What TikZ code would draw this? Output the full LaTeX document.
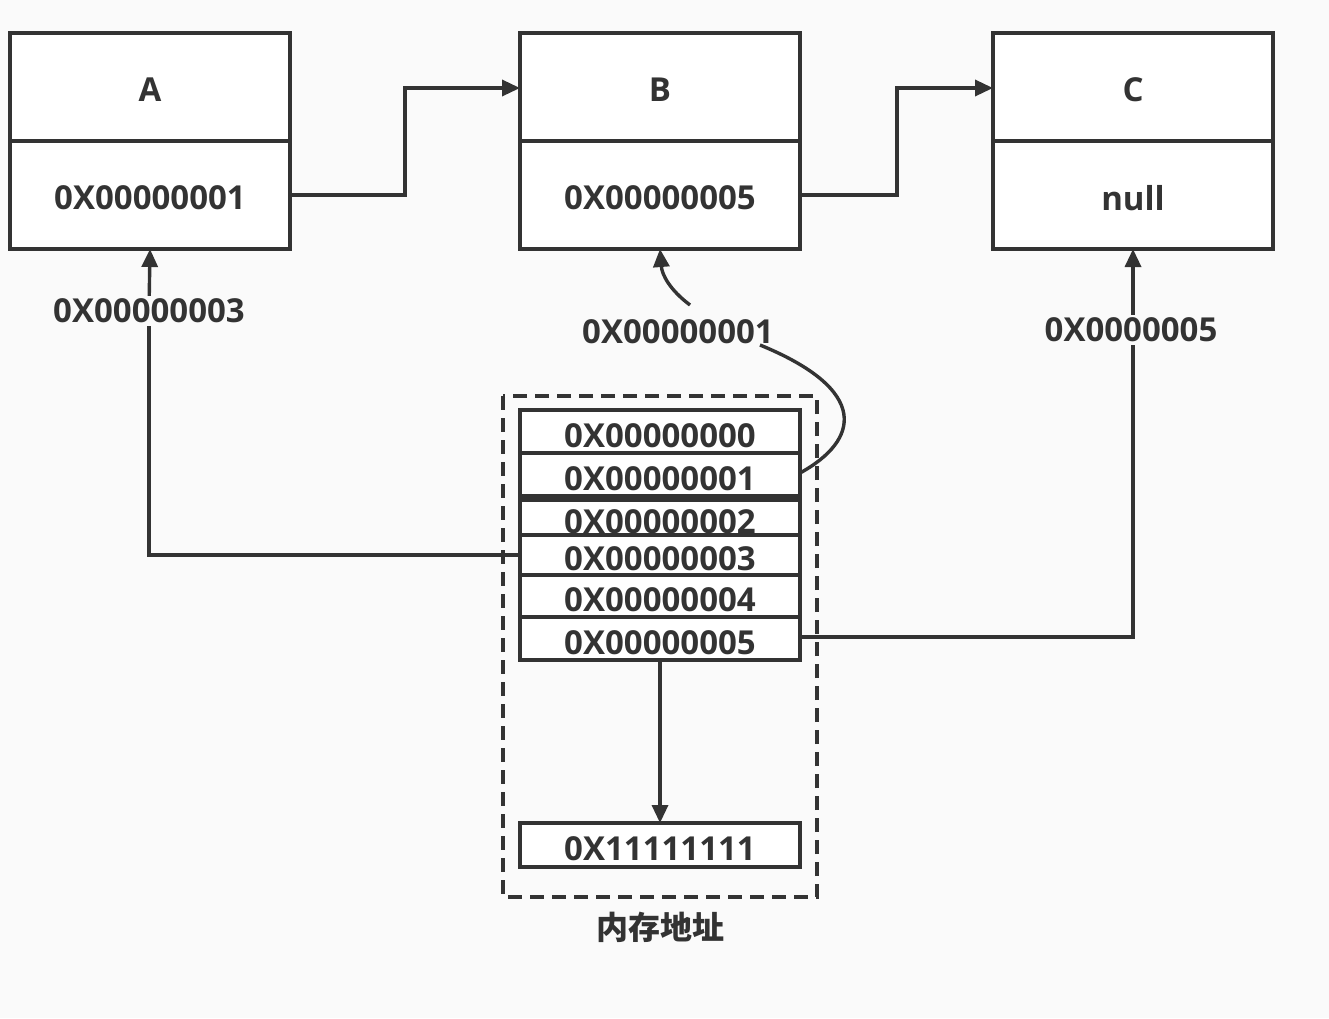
\documentclass[tikz,border=0pt]{standalone}
\usepackage{fontspec}
\setmainfont{Open Sans}
\newfontfamily\cjk{Noto Sans CJK SC}
\usetikzlibrary{arrows.meta}
\definecolor{bg}{RGB}{250,250,250}
\begin{document}
\begin{tikzpicture}[x=1pt,y=-1pt,
  ln/.style={line width=3.4pt,draw=black!80},
  ar/.style={ln,-{Triangle[length=18pt,width=16pt]}},
  txt/.style={font=\fontsize{33}{33}\selectfont\bfseries,text=black!80},
  cell/.style={ln,fill=white}]
\fill[bg] (0,0) rectangle (1329,1018);
\useasboundingbox (0,0) rectangle (1329,1018);
% list nodes
\foreach \n/\x/\t/\v in {A/10/A/0X00000001,B/520/B/0X00000005,C/993/C/null}{
  \draw[cell] (\x,33) rectangle +(280,216);
  \draw[ln] (\x,141) -- +(280,0);
  \node[txt] (\n t) at (\x+140,90) {\t};
  \node[txt] (\n v) at (\x+140,198) {\v};
  \coordinate (\n bot) at (\x+140,249);
}
\coordinate (Ain) at (520,88);
\coordinate (Bin) at (993,88);
\draw[ar] (290,195) -- (405,195) -- (405,88) -- (Ain);
\draw[ar] (800,195) -- (897,195) -- (897,88) -- (Bin);
% memory
\draw[ln,dashed,dash pattern=on 14pt off 8pt] (503,396) rectangle (817,897);
\foreach \i/\a/\b/\t in {0/410/453/0X00000000,1/453/496/0X00000001,2/500/535/0X00000002,3/535/575/0X00000003,4/575/617/0X00000004,5/617/660/0X00000005}{
  \draw[cell] (520,\a) rectangle (800,\b);
  \node[txt] (m\i) at (660,{(\a+\b)/2+4}) {\t};
}
\draw[cell] (520,823) rectangle (800,867);
\node[txt] (m11) at (660,849) {0X11111111};
\node[font=\fontsize{32}{32}\selectfont\cjk\bfseries,text=black!80] (lab) at (660,927) {内存地址};
% connectors
\draw[ln] (520,555) -- (149,555) -- (149,311);
\draw[ar] (149,311) -- (Abot);
\draw[ln] (800,637) -- (1133,637) -- (1133,330);
\draw[ar] (1133,330) -- (Cbot);
\node[txt,fill=bg,inner sep=3pt] (l3) at (149,311) {0X00000003};
\node[txt,fill=bg,inner sep=3pt] (l5) at (1131,330) {0X0000005};
\draw[ln] (800,473) .. controls (860,440) and (870,390) .. (760,345);
\draw[ar] (690,305) .. controls (670,290) and (662,275) .. (Bbot);
\node[txt] (l1) at (678,332) {0X00000001};
\draw[ar] (660,660) -- (660,823);
\end{tikzpicture}
\end{document}
